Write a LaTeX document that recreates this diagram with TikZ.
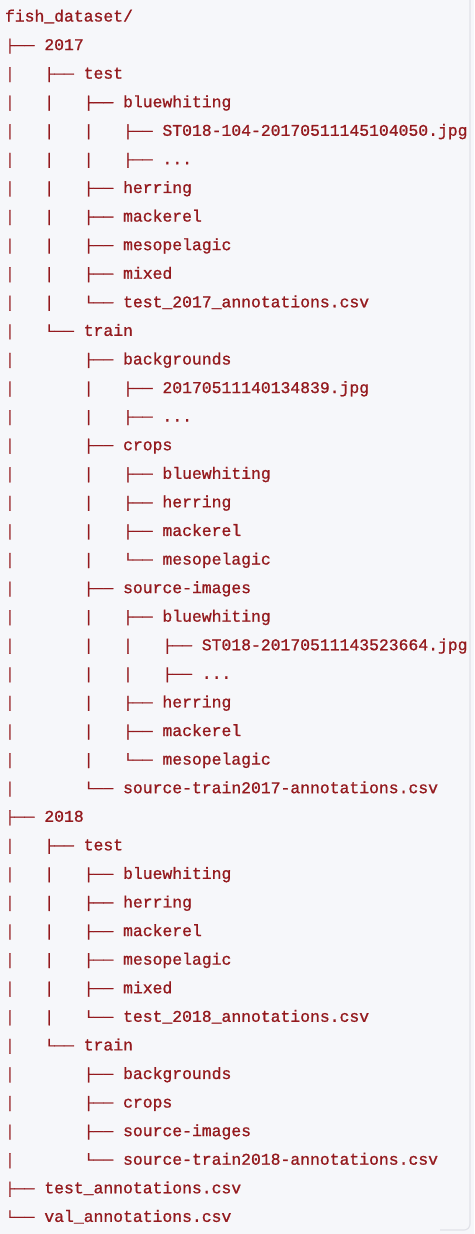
\documentclass[tikz,border=0pt]{standalone}
\usepackage{fontspec}
\usepackage{graphicx}
\newfontfamily\treefont[FakeBold=1]{Liberation Mono}
\definecolor{codered}{RGB}{148,26,30}
\definecolor{codebg}{RGB}{246,247,250}
\definecolor{codeedge}{RGB}{226,227,233}
\newsavebox\barbox
\newcommand\tc[1]{\sbox\barbox{│}\raisebox{-3.5pt}{\resizebox*{\width}{15pt}{\raisebox{\dp\barbox}[\dimexpr\ht\barbox+\dp\barbox\relax][0pt]{#1}}}}
\begin{document}
\begin{tikzpicture}[x=1pt,y=1pt,
  row/.style={anchor=base west, inner sep=0pt, outer sep=0pt,
    font=\treefont\fontsize{16.4}{16.4}\selectfont, text=codered}]
\fill[codebg] (0,0) rectangle (474,-1234);
\useasboundingbox (0,0) rectangle (474,-1234);
\draw[codeedge, line width=1.2pt, rounded corners=6pt] (470,0) -- (470,-1230) -- (440,-1230);
\node[row] (l1)  at (5,-21.50)   {fish\_dataset/};
\node[row] (l2)  at (5,-50.08)   {\tc{├──}~2017};
\node[row] (l3)  at (5,-78.66)   {\tc{│~~~├──}~test};
\node[row] (l4)  at (5,-107.24)  {\tc{│~~~│~~~├──}~bluewhiting};
\node[row] (l5)  at (5,-135.82)  {\tc{│~~~│~~~│~~~├──}~ST018-104-20170511145104050.jpg};
\node[row] (l6)  at (5,-164.40)  {\tc{│~~~│~~~│~~~├──}~...};
\node[row] (l7)  at (5,-192.98)  {\tc{│~~~│~~~├──}~herring};
\node[row] (l8)  at (5,-221.56)  {\tc{│~~~│~~~├──}~mackerel};
\node[row] (l9)  at (5,-250.14)  {\tc{│~~~│~~~├──}~mesopelagic};
\node[row] (l10) at (5,-278.72)  {\tc{│~~~│~~~├──}~mixed};
\node[row] (l11) at (5,-307.30)  {\tc{│~~~│~~~└──}~test\_2017\_annotations.csv};
\node[row] (l12) at (5,-335.88)  {\tc{│~~~└──}~train};
\node[row] (l13) at (5,-364.46)  {\tc{│~~~~~~~├──}~backgrounds};
\node[row] (l14) at (5,-393.04)  {\tc{│~~~~~~~│~~~├──}~20170511140134839.jpg};
\node[row] (l15) at (5,-421.62)  {\tc{│~~~~~~~│~~~├──}~...};
\node[row] (l16) at (5,-450.20)  {\tc{│~~~~~~~├──}~crops};
\node[row] (l17) at (5,-478.78)  {\tc{│~~~~~~~│~~~├──}~bluewhiting};
\node[row] (l18) at (5,-507.36)  {\tc{│~~~~~~~│~~~├──}~herring};
\node[row] (l19) at (5,-535.94)  {\tc{│~~~~~~~│~~~├──}~mackerel};
\node[row] (l20) at (5,-564.52)  {\tc{│~~~~~~~│~~~└──}~mesopelagic};
\node[row] (l21) at (5,-593.10)  {\tc{│~~~~~~~├──}~source-images};
\node[row] (l22) at (5,-621.68)  {\tc{│~~~~~~~│~~~├──}~bluewhiting};
\node[row] (l23) at (5,-650.26)  {\tc{│~~~~~~~│~~~│~~~├──}~ST018-20170511143523664.jpg};
\node[row] (l24) at (5,-678.84)  {\tc{│~~~~~~~│~~~│~~~├──}~...};
\node[row] (l25) at (5,-707.42)  {\tc{│~~~~~~~│~~~├──}~herring};
\node[row] (l26) at (5,-736.00)  {\tc{│~~~~~~~│~~~├──}~mackerel};
\node[row] (l27) at (5,-764.58)  {\tc{│~~~~~~~│~~~└──}~mesopelagic};
\node[row] (l28) at (5,-793.16)  {\tc{│~~~~~~~└──}~source-train2017-annotations.csv};
\node[row] (l29) at (5,-821.74)  {\tc{├──}~2018};
\node[row] (l30) at (5,-850.32)  {\tc{│~~~├──}~test};
\node[row] (l31) at (5,-878.90)  {\tc{│~~~│~~~├──}~bluewhiting};
\node[row] (l32) at (5,-907.48)  {\tc{│~~~│~~~├──}~herring};
\node[row] (l33) at (5,-936.06)  {\tc{│~~~│~~~├──}~mackerel};
\node[row] (l34) at (5,-964.64)  {\tc{│~~~│~~~├──}~mesopelagic};
\node[row] (l35) at (5,-993.22)  {\tc{│~~~│~~~├──}~mixed};
\node[row] (l36) at (5,-1021.80) {\tc{│~~~│~~~└──}~test\_2018\_annotations.csv};
\node[row] (l37) at (5,-1050.38) {\tc{│~~~└──}~train};
\node[row] (l38) at (5,-1078.96) {\tc{│~~~~~~~├──}~backgrounds};
\node[row] (l39) at (5,-1107.54) {\tc{│~~~~~~~├──}~crops};
\node[row] (l40) at (5,-1136.12) {\tc{│~~~~~~~├──}~source-images};
\node[row] (l41) at (5,-1164.70) {\tc{│~~~~~~~└──}~source-train2018-annotations.csv};
\node[row] (l42) at (5,-1193.28) {\tc{├──}~test\_annotations.csv};
\node[row] (l43) at (5,-1221.86) {\tc{└──}~val\_annotations.csv};
\end{tikzpicture}
\end{document}
